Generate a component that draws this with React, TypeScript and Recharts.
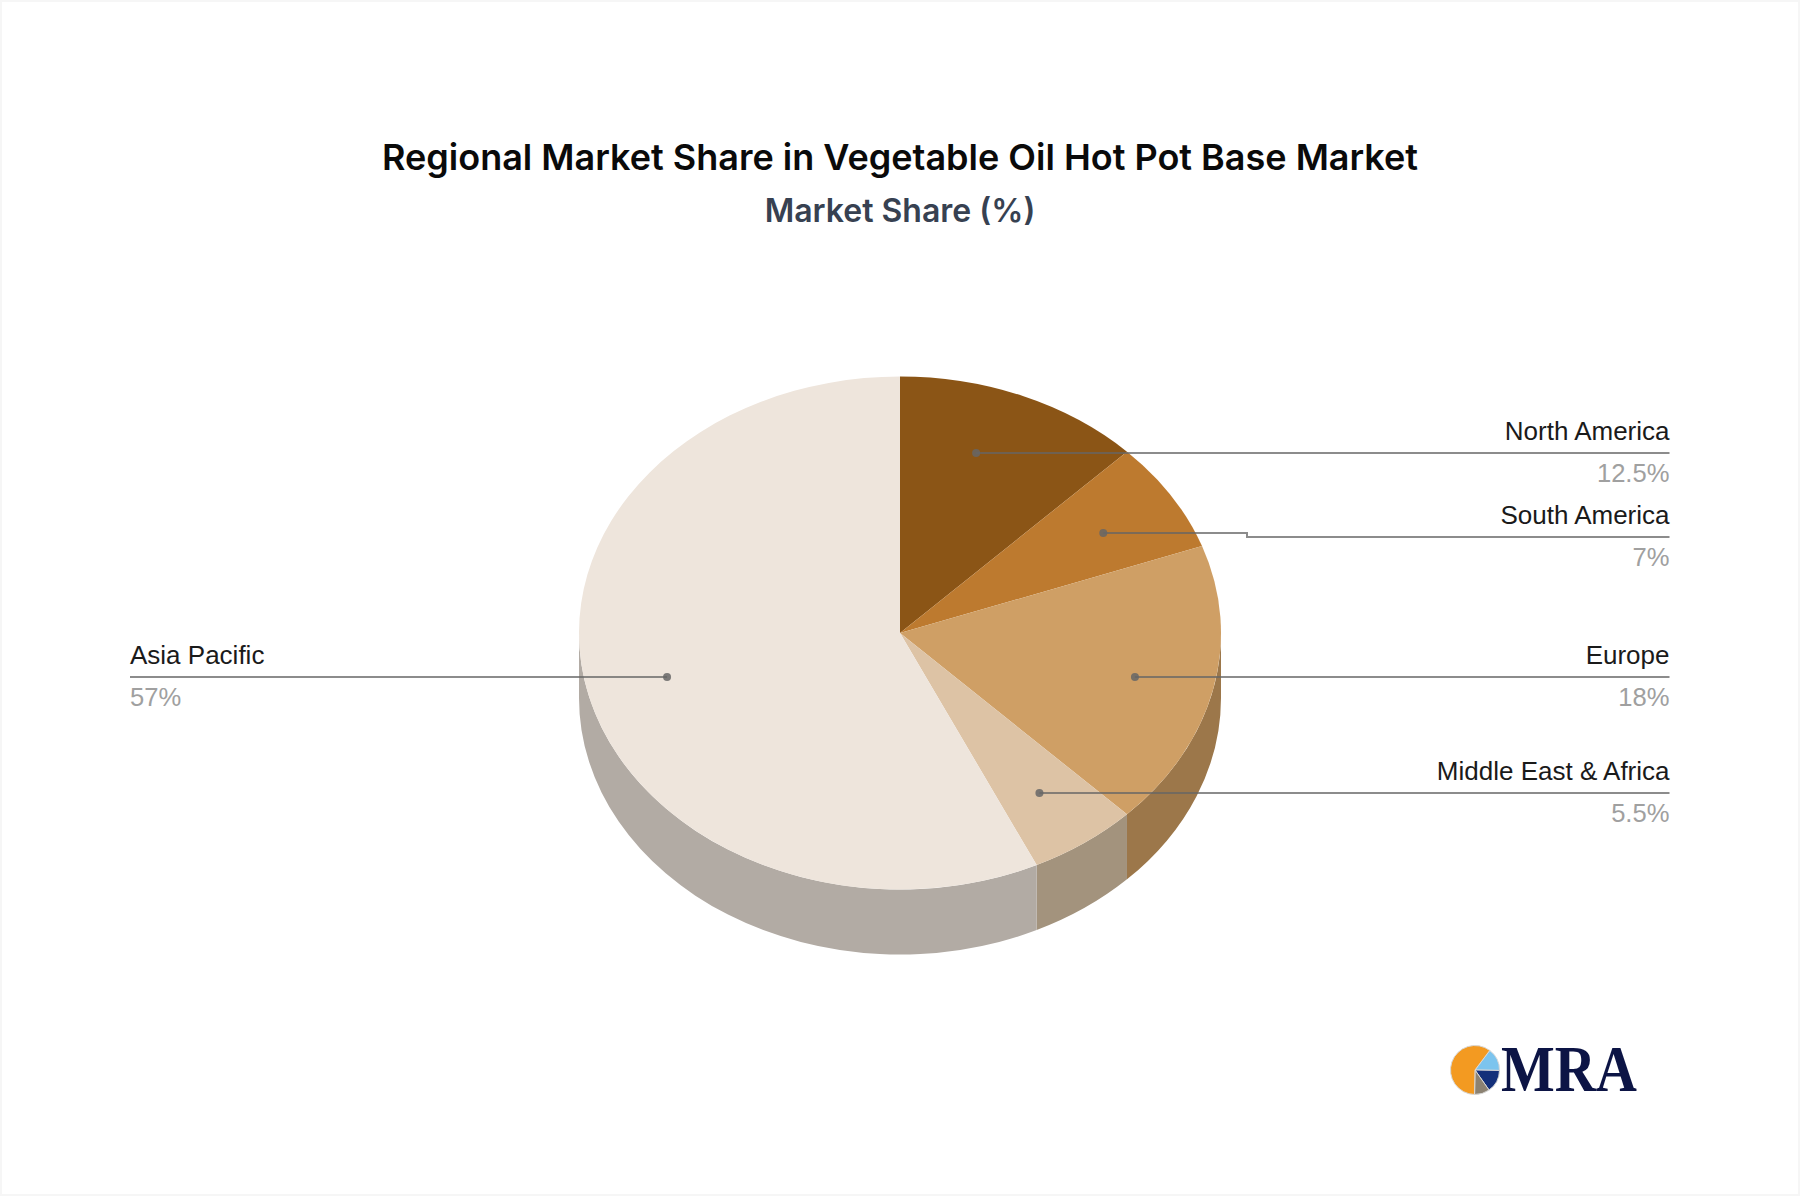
import { PieChart, Pie } from "recharts";

const regions = ["North America", "South America", "Europe", "Middle East & Africa", "Asia Pacific"];
const shares = [12.5, 7, 18, 5.5, 57];
const topColors = ["#8B5516", "#BD7A2F", "#CF9F65", "#DDC3A5", "#EEE5DC"];
const wallColors = ["#684010", "#8E5C23", "#9C774A", "#A3937D", "#B2ABA4"];

const logoShares = [15, 15, 10, 60];
const logoColors = ["#7CC4EE", "#14307A", "#8C8272", "#F39A21"];

const data = regions.map((name, i) => ({ name, value: shares[i], fill: topColors[i] }));
const wallData = regions.map((name, i) => ({ name, value: shares[i], fill: wallColors[i] }));
const logoData = logoShares.map((value, i) => ({ name: `logo${i}`, value, fill: logoColors[i] }));

const CX = 900;
const CY = 633;
const RX = 321;
const RY = 256.5;
const DEPTH = 65;
const SANS = "'Liberation Sans', Arial, sans-serif";

// small corrections so the leader dots land where the labels were laid out
const dotNudge = [
  [-16, 2],
  [0, 5.5],
  [0, 1],
  [1, -2],
  [2, 1],
];

const rad = (deg: number) => (deg * Math.PI) / 180;
const onEllipse = (deg: number, k = 1, ky = k) => ({
  x: CX + RX * k * Math.cos(rad(deg)),
  y: CY - RY * ky * Math.sin(rad(deg)),
});

// recharts hands over circular angles, flatten them to the tilted disc
function TopSlice(props: any) {
  const a = onEllipse(props.startAngle);
  const b = onEllipse(props.endAngle);
  const large = Math.abs(props.startAngle - props.endAngle) > 180 ? 1 : 0;
  const d = `M${CX},${CY} L${a.x},${a.y} A${RX},${RY} 0 ${large} 1 ${b.x},${b.y} Z`;
  return <path d={d} fill={props.fill} />;
}

// only the front half of the disc (sin < 0) shows a wall
function WallSlice(props: any) {
  const norm = (deg: number) => ((deg % 360) + 360) % 360;
  const s = norm(props.startAngle);
  const span = props.startAngle - props.endAngle;
  // walk from s clockwise, keep the part between 360 (right edge) and 180 (left edge)
  const startFront = s > 180 ? s : s === 0 ? 360 : null;
  let hi: number;
  if (startFront !== null) hi = startFront;
  else if (s - span < 0) hi = 360;
  else return null;
  const sEnd = s - span;
  const lo = startFront !== null ? Math.max(sEnd, 180) : Math.max(360 + sEnd, 180);
  if (hi <= lo) return null;
  const a = onEllipse(hi);
  const b = onEllipse(lo);
  const d = `M${a.x},${a.y} A${RX},${RY} 0 0 1 ${b.x},${b.y} L${b.x},${b.y + DEPTH} A${RX},${RY} 0 0 0 ${a.x},${a.y + DEPTH} Z`;
  return <path d={d} fill={props.fill} />;
}

function Leader(props: any) {
  const i = regions.indexOf(props.name);
  const p = onEllipse(props.midAngle, 0.75, 0.77);
  const x = p.x + dotNudge[i][0];
  const y = Math.round(p.y + dotNudge[i][1]);
  const left = x < CX - 100;
  const endX = left ? 130 : 1669.5;
  const lineY = props.name === "South America" ? y + 4 : y;
  const path =
    lineY !== y ? `M${x},${y} H1247 V${lineY} H${endX}` : `M${x},${y} H${endX}`;
  return (
    <g>
      <path d={path} fill="none" stroke="#666" strokeOpacity={0.75} strokeWidth={2} />
      <circle cx={x} cy={y} r={4} fill="#666" fillOpacity={0.85} />
      <text x={endX} y={lineY - 13} textAnchor={left ? "start" : "end"} fontFamily={SANS} fontSize={26} fill="#1a1a1a">
        {props.name}
      </text>
      <text x={endX} y={lineY + 29} textAnchor={left ? "start" : "end"} fontFamily={SANS} fontSize={25.6} fill="#a0a0a0">
        {props.value}%
      </text>
    </g>
  );
}

export default function App() {
  return (
    <div style={{ position: "absolute", left: 0, top: 0, width: 1800, height: 1196, background: "#fff", boxShadow: "inset 0 0 0 2px #f6f6f6" }}>
      <PieChart width={1800} height={1196} margin={{ top: 0, right: 0, bottom: 0, left: 0 }}>
        <text x={900} y={170} textAnchor="middle" fontFamily="Inter" fontWeight={600} fontSize={36} fill="#0a0a0a">
          Regional Market Share in Vegetable Oil Hot Pot Base Market
        </text>
        <text x={900} y={222} textAnchor="middle" fontFamily="Inter" fontWeight={600} fontSize={32} fill="#374151">
          Market Share (%)
        </text>
        <Pie
          data={wallData}
          dataKey="value"
          nameKey="name"
          cx={CX}
          cy={CY}
          outerRadius={RX}
          startAngle={90}
          endAngle={-270}
          stroke="none"
          shape={WallSlice}
          isAnimationActive={false}
        />
        <Pie
          data={data}
          dataKey="value"
          nameKey="name"
          cx={CX}
          cy={CY}
          outerRadius={RX}
          startAngle={90}
          endAngle={-270}
          stroke="none"
          shape={TopSlice}
          label={Leader}
          labelLine={false}
          isAnimationActive={false}
        />
        <Pie
          data={logoData}
          dataKey="value"
          nameKey="name"
          cx={1475}
          cy={1070}
          outerRadius={24.5}
          startAngle={53}
          endAngle={-307}
          stroke="#d8d8d8"
          strokeWidth={1}
          isAnimationActive={false}
        />
        <text x={1501} y={1091} fontFamily="'Liberation Serif', serif" fontWeight={700} fontSize={66} fill="#0C1445" textLength={136} lengthAdjust="spacingAndGlyphs">
          MRA
        </text>
      </PieChart>
    </div>
  );
}
